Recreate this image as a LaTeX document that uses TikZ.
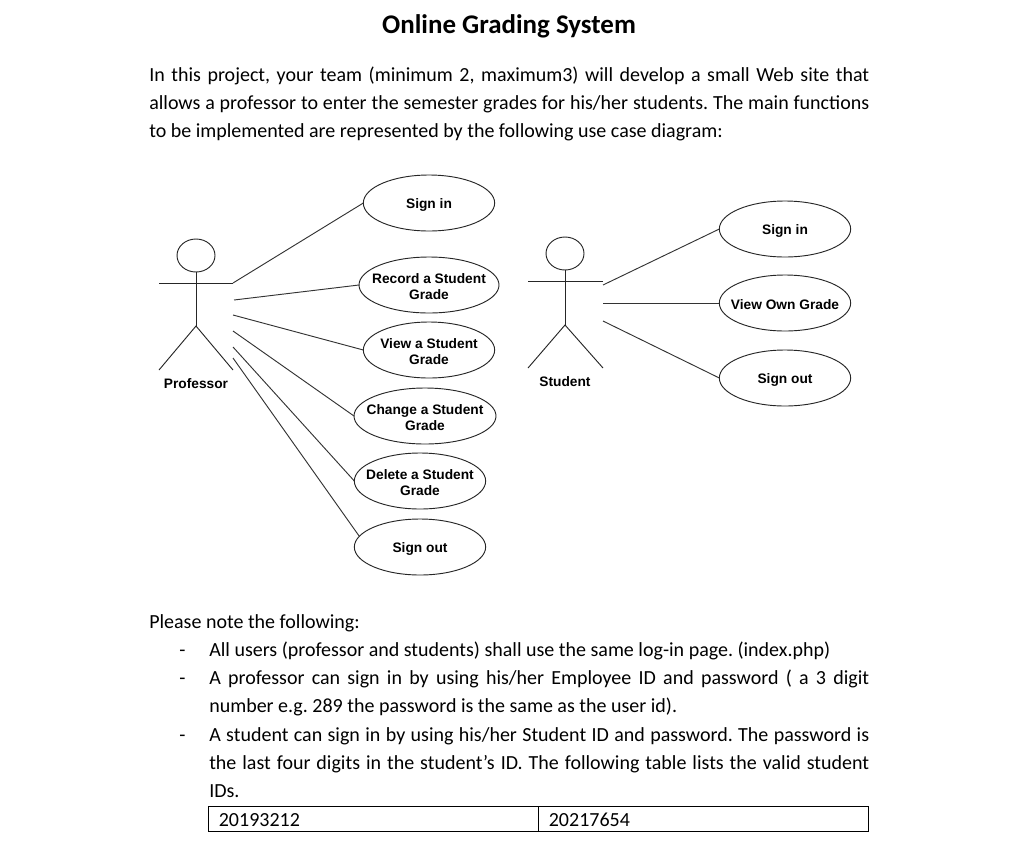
\documentclass[tikz,border=0pt]{standalone}
\usepackage{fontspec}
\setmainfont{Carlito}
\newfontfamily\umlfont{Liberation Sans}
\usetikzlibrary{shapes.geometric, positioning}
\frenchspacing
\newcommand{\ucline}{\rule{0pt}{10.4pt}}
\tikzset{
  usecase/.style={ellipse, draw=black!85, line width=0.7pt, minimum width=98.5pt, minimum height=42pt, inner xsep=-12pt, inner ysep=0pt, outer sep=0pt, align=center, font=\umlfont\bfseries\fontsize{10.3}{12}\selectfont},
  actorhead/.style={ellipse, draw=black!85, line width=0.7pt, minimum width=28.5pt, minimum height=24.75pt, inner sep=0pt, outer sep=0pt},
  actorname/.style={font=\umlfont\bfseries\fontsize{10.3}{12}\selectfont, inner sep=0pt},
  stick/.style={draw=black!85, line width=0.7pt},
  link/.style={draw=black!80, line width=0.7pt},
  para/.style={anchor=north west, inner sep=0pt, align=justify, font=\fontsize{15}{21}\selectfont, execute at begin node=\strut},
  bullet/.style={anchor=north west, inner sep=0pt, font=\fontsize{15}{21}\selectfont, execute at begin node=\strut},
  cell/.style={rectangle, draw=black, line width=0.75pt, minimum width=247.5pt, minimum height=18.5pt, inner sep=0pt, outer sep=0pt, text width=232pt, align=left, font=\fontsize{15}{21}\selectfont, execute at begin node=\rule{0pt}{11.5pt}}
}
\begin{document}
\begin{tikzpicture}[x=0.75pt, y=-0.75pt]
\useasboundingbox (0,0) rectangle (1017,843);

% Heading and first paragraph
\node[font=\bfseries\fontsize{20.2}{24}\selectfont, inner sep=0pt] (title) at (509,26) {Online Grading System};
\node[para, text width=540pt] (intro) at (149,62) {In this project, your team (minimum 2, maximum3) will develop a small Web site that\linebreak allows a professor to enter the semester grades for his/her students. The main functions\linebreak to be implemented are represented by the following use case diagram:};

% Professor actor
\node[actorhead] (profhead) at (196,255.5) {};
\node[actorname] (profname) at (196,384) {Professor};
\coordinate (profhip) at (196,326);
\draw[stick] (profhead) -- (profhip);
\draw[stick] (159,283) -- (233,283);
\draw[stick] (159,370) -- (profhip) -- (233,370);

% Professor use cases
\node[usecase] (psignin) at (429,203) {\ucline Sign in};
\node[usecase, below=19.5pt of psignin, minimum width=105pt] (record) {\ucline Record a Student\\Grade};
\node[usecase, below=6.75pt of record] (viewgrade) {\ucline View a Student\\Grade};
\node[usecase, below=7.5pt of viewgrade, xshift=-3pt, minimum width=106.5pt] (change) {\ucline Change a Student\\Grade};
\node[usecase, below=6.75pt of change, xshift=-3.75pt] (delete) {\ucline Delete a Student\\Grade};
\node[usecase, below=7.5pt of delete] (psignout) {\ucline Sign out};

\coordinate (pa) at (233,283);
\coordinate (pb) at (234,300);
\coordinate (pc) at (233,315);
\coordinate (pd) at (233,331);
\coordinate (pe) at (233,347);
\coordinate (pf) at (233,358);
\draw[link] (pa) -- (psignin.west);
\draw[link] (pb) -- (record.west);
\draw[link] (pc) -- (viewgrade.west);
\draw[link] (pd) -- (change.west);
\draw[link] (pe) -- (delete.west);
\draw[link] (pf) -- (psignout.170);

% Student actor
\node[actorhead] (studhead) at (565,253.5) {};
\node[actorname] (studname) at (565,382) {Student};
\coordinate (studhip) at (565,325);
\draw[stick] (studhead) -- (studhip);
\draw[stick] (528,281) -- (603,281);
\draw[stick] (528,368) -- (studhip) -- (603,368);

% Student use cases
\node[usecase] (ssignin) at (785,229) {\ucline Sign in};
\node[usecase, below=13.5pt of ssignin] (viewown) {\ucline View Own Grade};
\node[usecase, below=14.25pt of viewown] (ssignout) {\ucline Sign out};

\coordinate (sa) at (603,285);
\coordinate (sb) at (603,303);
\coordinate (sc) at (603,321);
\draw[link] (sa) -- (ssignin.west);
\draw[link] (sb) -- (viewown.west);
\draw[link] (sc) -- (ssignout.west);

% Notes
\node[bullet] (note) at (149,609) {Please note the following:};
\node[bullet] (dasha) at (179,637) {-};
\node[bullet] (usera) at (209,637) {All users (professor and students) shall use the same log-in page. (index.php)};
\node[bullet] (dashb) at (179,665) {-};
\node[para, text width=495pt] (userb) at (209,665) {A professor can sign in by using his/her Employee ID and password ( a 3 digit\linebreak number e.g. 289 the password is the same as the user id).};
\node[bullet] (dashc) at (179,722) {-};
\node[para, text width=495pt] (userc) at (209,722) {A student can sign in by using his/her Student ID and password. The password is\linebreak the last four digits in the student’s ID. The following table lists the valid student\linebreak IDs.};

% ID table
\node[cell, anchor=north west] (ida) at (208.5,806.5) {20193212};
\node[cell, right=0pt of ida] (idb) {20217654};
\end{tikzpicture}
\end{document}
